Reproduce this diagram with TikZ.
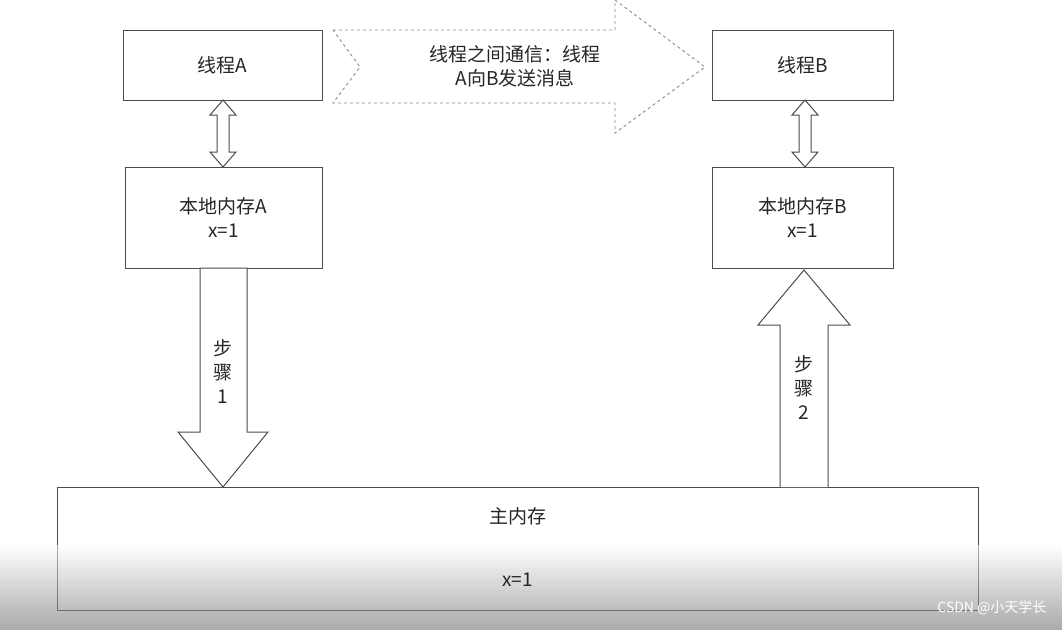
\documentclass[tikz,border=0pt]{standalone}
\usepackage{fontspec}
\setmainfont{Liberation Serif}
\newfontfamily\cjk{Noto Sans CJK SC}
\begin{document}
\begin{tikzpicture}[x=1pt,y=-1pt,
  box/.style={draw=black!70,line width=1pt,fill=white},
  hol/.style={draw=black!70,line width=1pt,fill=white,line join=miter},
  lbl/.style={font=\cjk\fontsize{19}{24}\selectfont,text=black!85}]
\fill[white] (0,0) rectangle (1062,629);
\useasboundingbox (0,0) rectangle (1062,629);
% dashed big arrow
\draw[dashed,draw=black!45,line width=0.9pt] (333,30) -- (615,30) -- (615,0) -- (705,67) -- (615,133) -- (615,103) -- (333,103) -- (360,67) -- cycle;
\node[lbl,align=center] (msg) at (515,66) {线程之间通信：线程\\A向B发送消息};
% boxes
\node[box,minimum width=199pt,minimum height=70pt,lbl] (ta) at (222.5,65) {线程A};
\node[box,minimum width=197pt,minimum height=101pt,lbl,align=center] (la) at (223.5,217.5) {本地内存A\\x=1};
\node[box,minimum width=181pt,minimum height=70pt,lbl] (tb) at (802.5,65) {线程B};
\node[box,minimum width=181pt,minimum height=101pt,lbl,align=center] (lb) at (802.5,217.5) {本地内存B\\x=1};
\node[box,minimum width=921pt,minimum height=123pt] (mm) at (517.5,548.5) {};
% double arrows
\draw[hol] (223,100) -- (236,115) -- (229,115) -- (229,152) -- (236,152) -- (223,167) -- (210,152) -- (217,152) -- (217,115) -- (210,115) -- cycle;
\draw[hol] (805,100) -- (818,115) -- (811,115) -- (811,152) -- (818,152) -- (805,167) -- (792,152) -- (799,152) -- (799,115) -- (792,115) -- cycle;
% step 1
\draw[hol] (200,268) -- (247,268) -- (247,432) -- (268,432) -- (223,487) -- (178,432) -- (200,432) -- cycle;
\node[lbl,align=center] (s1) at (223,372) {步\\骤\\1};
% step 2
\draw[hol] (780,487) -- (780,325) -- (758,325) -- (804,270) -- (850,325) -- (828,325) -- (828,487);
\node[lbl,align=center] (s2) at (804,388) {步\\骤\\2};
% bottom shade
\shade[top color=white,bottom color=black!60,opacity=0.55] (0,545) rectangle (1062,629);
\node[lbl] (mmt) at (517.5,516) {主内存};
\node[lbl] (mmx) at (517.5,580) {x=1};
\node[font=\cjk\fontsize{14}{16}\selectfont,text=white,anchor=east] (wm) at (1050,608) {CSDN @小天学长};
\end{tikzpicture}
\end{document}
